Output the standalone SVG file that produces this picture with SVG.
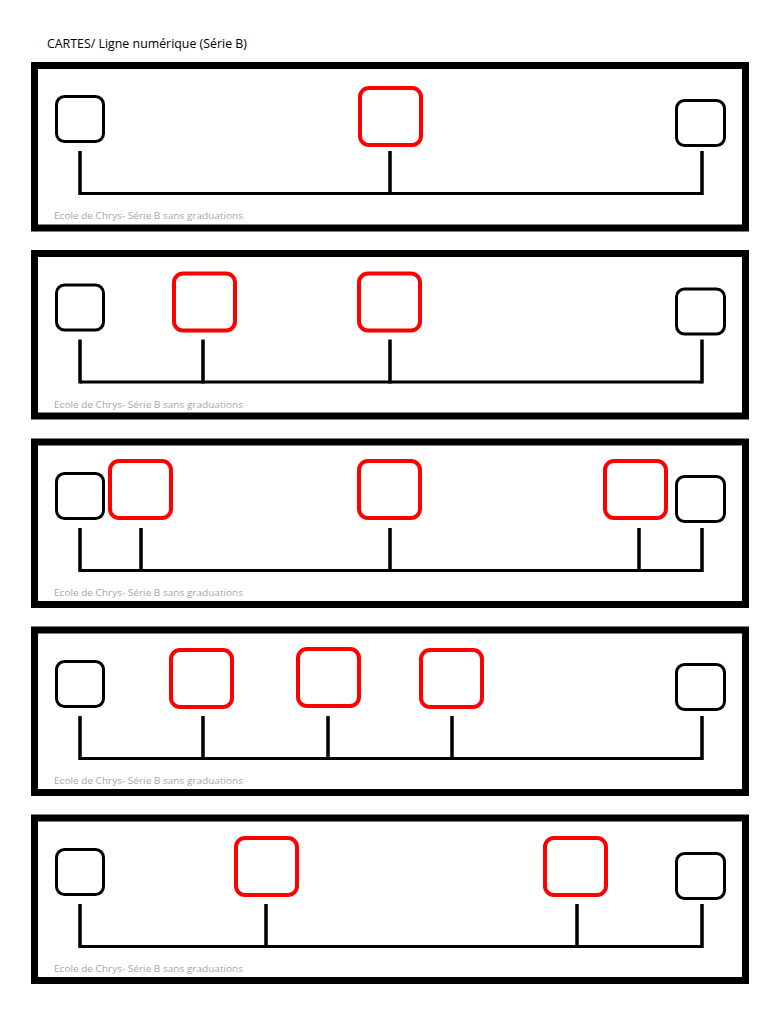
<svg xmlns="http://www.w3.org/2000/svg" width="768" height="1024" viewBox="0 0 768 1024">
<style>
.panel{fill:none;stroke:#000;stroke-width:7}
.bk{fill:none;stroke:#000;stroke-width:3}
.rd{fill:none;stroke:#ff0000;stroke-width:4}
.line{fill:none;stroke:#000;stroke-width:3}
.tick{fill:none;stroke:#000;stroke-width:3.5}
.foot{font-family:"Open Sans","Liberation Sans",Arial,sans-serif;font-size:9.5px;fill:#a6a6a6}
.title{font-family:"Open Sans","Liberation Sans",Arial,sans-serif;font-size:12px;fill:#000}
</style>
<rect width="768" height="1024" fill="#fff"/>
<text class="title" x="47" y="48" textLength="200" lengthAdjust="spacingAndGlyphs">CARTES/ Ligne numérique (Série B)</text>

<g id="card1">
  <rect class="panel" x="34.5" y="65.5" width="711" height="162.5"/>
  <rect id="c1-start" class="bk" x="56.5" y="96.5" width="47" height="45" rx="8"/>
  <rect id="c1-r1" class="rd" x="360" y="88" width="61" height="57" rx="9"/>
  <rect id="c1-end" class="bk" x="676.5" y="100.5" width="48" height="45" rx="8"/>
  <text class="foot" x="54" y="219" textLength="189" lengthAdjust="spacingAndGlyphs">Ecole de Chrys- Série B sans graduations</text>
</g>
<g id="card2" transform="translate(0,188.5)">
  <rect class="panel" x="34.5" y="65" width="711" height="162.5"/>
  <rect id="c2-start" class="bk" x="56.5" y="96.5" width="47" height="45" rx="8"/>
  <rect id="c2-r1" class="rd" x="174" y="85" width="61" height="57" rx="9"/>
  <rect id="c2-r2" class="rd" x="359" y="85" width="61" height="57" rx="9"/>
  <rect id="c2-end" class="bk" x="676.5" y="100.5" width="48" height="45" rx="8"/>
  <text class="foot" x="54" y="219" textLength="189" lengthAdjust="spacingAndGlyphs">Ecole de Chrys- Série B sans graduations</text>
</g>
<g id="card3" transform="translate(0,377)">
  <rect class="panel" x="34.5" y="65" width="711" height="162.5"/>
  <rect id="c3-start" class="bk" x="56.5" y="96.5" width="47" height="45" rx="8"/>
  <rect id="c3-r1" class="rd" x="110" y="84" width="61" height="57" rx="9"/>
  <rect id="c3-r2" class="rd" x="359" y="84" width="61" height="57" rx="9"/>
  <rect id="c3-r3" class="rd" x="605" y="84" width="61" height="57" rx="9"/>
  <rect id="c3-end" class="bk" x="676.5" y="99.5" width="48" height="45" rx="8"/>
  <text class="foot" x="54" y="219" textLength="189" lengthAdjust="spacingAndGlyphs">Ecole de Chrys- Série B sans graduations</text>
</g>
<g id="card4" transform="translate(0,565)">
  <rect class="panel" x="34.5" y="65" width="711" height="162.5"/>
  <rect id="c4-start" class="bk" x="56.5" y="96.5" width="47" height="45" rx="8"/>
  <rect id="c4-r1" class="rd" x="171" y="85" width="61" height="57" rx="9"/>
  <rect id="c4-r2" class="rd" x="298" y="84" width="61" height="57" rx="9"/>
  <rect id="c4-r3" class="rd" x="421" y="85" width="61" height="57" rx="9"/>
  <rect id="c4-end" class="bk" x="676.5" y="99.5" width="48" height="45" rx="8"/>
  <text class="foot" x="54" y="219" textLength="189" lengthAdjust="spacingAndGlyphs">Ecole de Chrys- Série B sans graduations</text>
</g>
<g id="card5" transform="translate(0,753)">
  <rect class="panel" x="34.5" y="65" width="711" height="162.5"/>
  <rect id="c5-start" class="bk" x="56.5" y="96.5" width="47" height="45" rx="8"/>
  <rect id="c5-r1" class="rd" x="236" y="85" width="61" height="57" rx="9"/>
  <rect id="c5-r2" class="rd" x="545" y="85" width="61" height="57" rx="9"/>
  <rect id="c5-end" class="bk" x="676.5" y="100.5" width="48" height="45" rx="8"/>
  <text class="foot" x="54" y="219" textLength="189" lengthAdjust="spacingAndGlyphs">Ecole de Chrys- Série B sans graduations</text>
</g>

<g id="connectors">
  <g transform="translate(0,0)">
    <path class="line" d="M80,193.5 H702"/>
    <path class="tick" d="M80,151 V195 M390,151 V195 M702,151 V195"/>
  </g>
  <g transform="translate(0,188.5)">
    <path class="line" d="M80,193.5 H702"/>
    <path class="tick" d="M80,151 V195 M203,151 V195 M390,151 V195 M702,151 V195"/>
  </g>
  <g transform="translate(0,377)">
    <path class="line" d="M80,193.5 H702"/>
    <path class="tick" d="M80,151 V195 M141,151 V195 M390,151 V195 M639,151 V195 M702,151 V195"/>
  </g>
  <g transform="translate(0,565)">
    <path class="line" d="M80,193.5 H702"/>
    <path class="tick" d="M80,151 V195 M203,151 V195 M328,151 V195 M452,151 V195 M702,151 V195"/>
  </g>
  <g transform="translate(0,753)">
    <path class="line" d="M80,193.5 H702"/>
    <path class="tick" d="M80,151 V195 M266,151 V195 M577,151 V195 M702,151 V195"/>
  </g>
</g>
</svg>
